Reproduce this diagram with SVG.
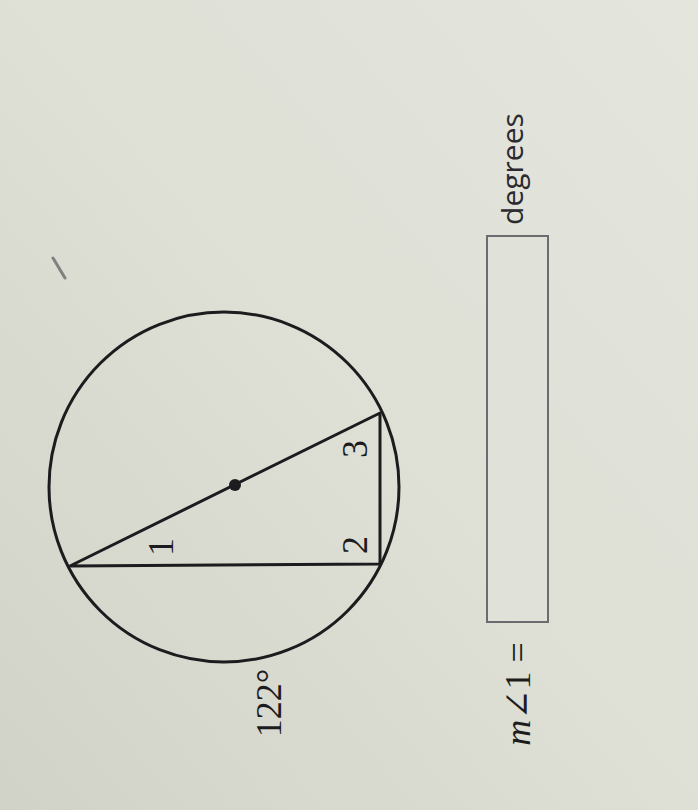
<svg xmlns="http://www.w3.org/2000/svg" width="698" height="810" viewBox="0 0 698 810">
  <defs>
    <linearGradient id="bg" x1="1" y1="0" x2="0" y2="1">
      <stop offset="0" stop-color="#e4e5dd"/>
      <stop offset="0.5" stop-color="#dedfd5"/>
      <stop offset="1" stop-color="#d2d3c8"/>
    </linearGradient>
    <style>
      .ln { stroke: #1c1c1e; stroke-width: 3; fill: none; stroke-linecap: round; }
      .num { font-family: "Liberation Serif", "DejaVu Serif", serif; font-size: 36px; fill: #1c1c1e; text-anchor: middle; }
      .sans { font-family: "Open Sans", "Liberation Sans", sans-serif; font-size: 30px; fill: #2a2a30; text-anchor: middle; }
    </style>
  </defs>
  <rect x="0" y="0" width="698" height="810" fill="url(#bg)"/>
  <path d="M53 258 L65 278" stroke="#6a6a6e" stroke-width="3" stroke-linecap="round" opacity="0.8"/>

  <g id="circle">
    <circle cx="224" cy="487" r="175" class="ln"/>
  </g>
  <g id="triangle">
    <polygon points="70,566 380,413 380,564" class="ln" stroke-linejoin="round"/>
  </g>
  <g id="center">
    <circle cx="235" cy="485" r="6" fill="#1c1c1e"/>
  </g>

  <g id="labels">
    <text class="num" transform="translate(173,547) rotate(-90)">1</text>
    <text class="num" transform="translate(367,545) rotate(-90)">2</text>
    <text class="num" transform="translate(367,449) rotate(-90)">3</text>
    <text class="num" transform="translate(281,703) rotate(-90)">122°</text>
  </g>

  <g id="answer">
    <text class="num" font-size="34" transform="translate(530,694) rotate(-90)"><tspan font-style="italic">m</tspan>∠1 =</text>
    <rect x="487" y="236" width="61" height="386" fill="#e0e1d9" stroke="#6b6b70" stroke-width="2"/>
    <text class="sans" transform="translate(523,169) rotate(-90)">degrees</text>
  </g>
</svg>
